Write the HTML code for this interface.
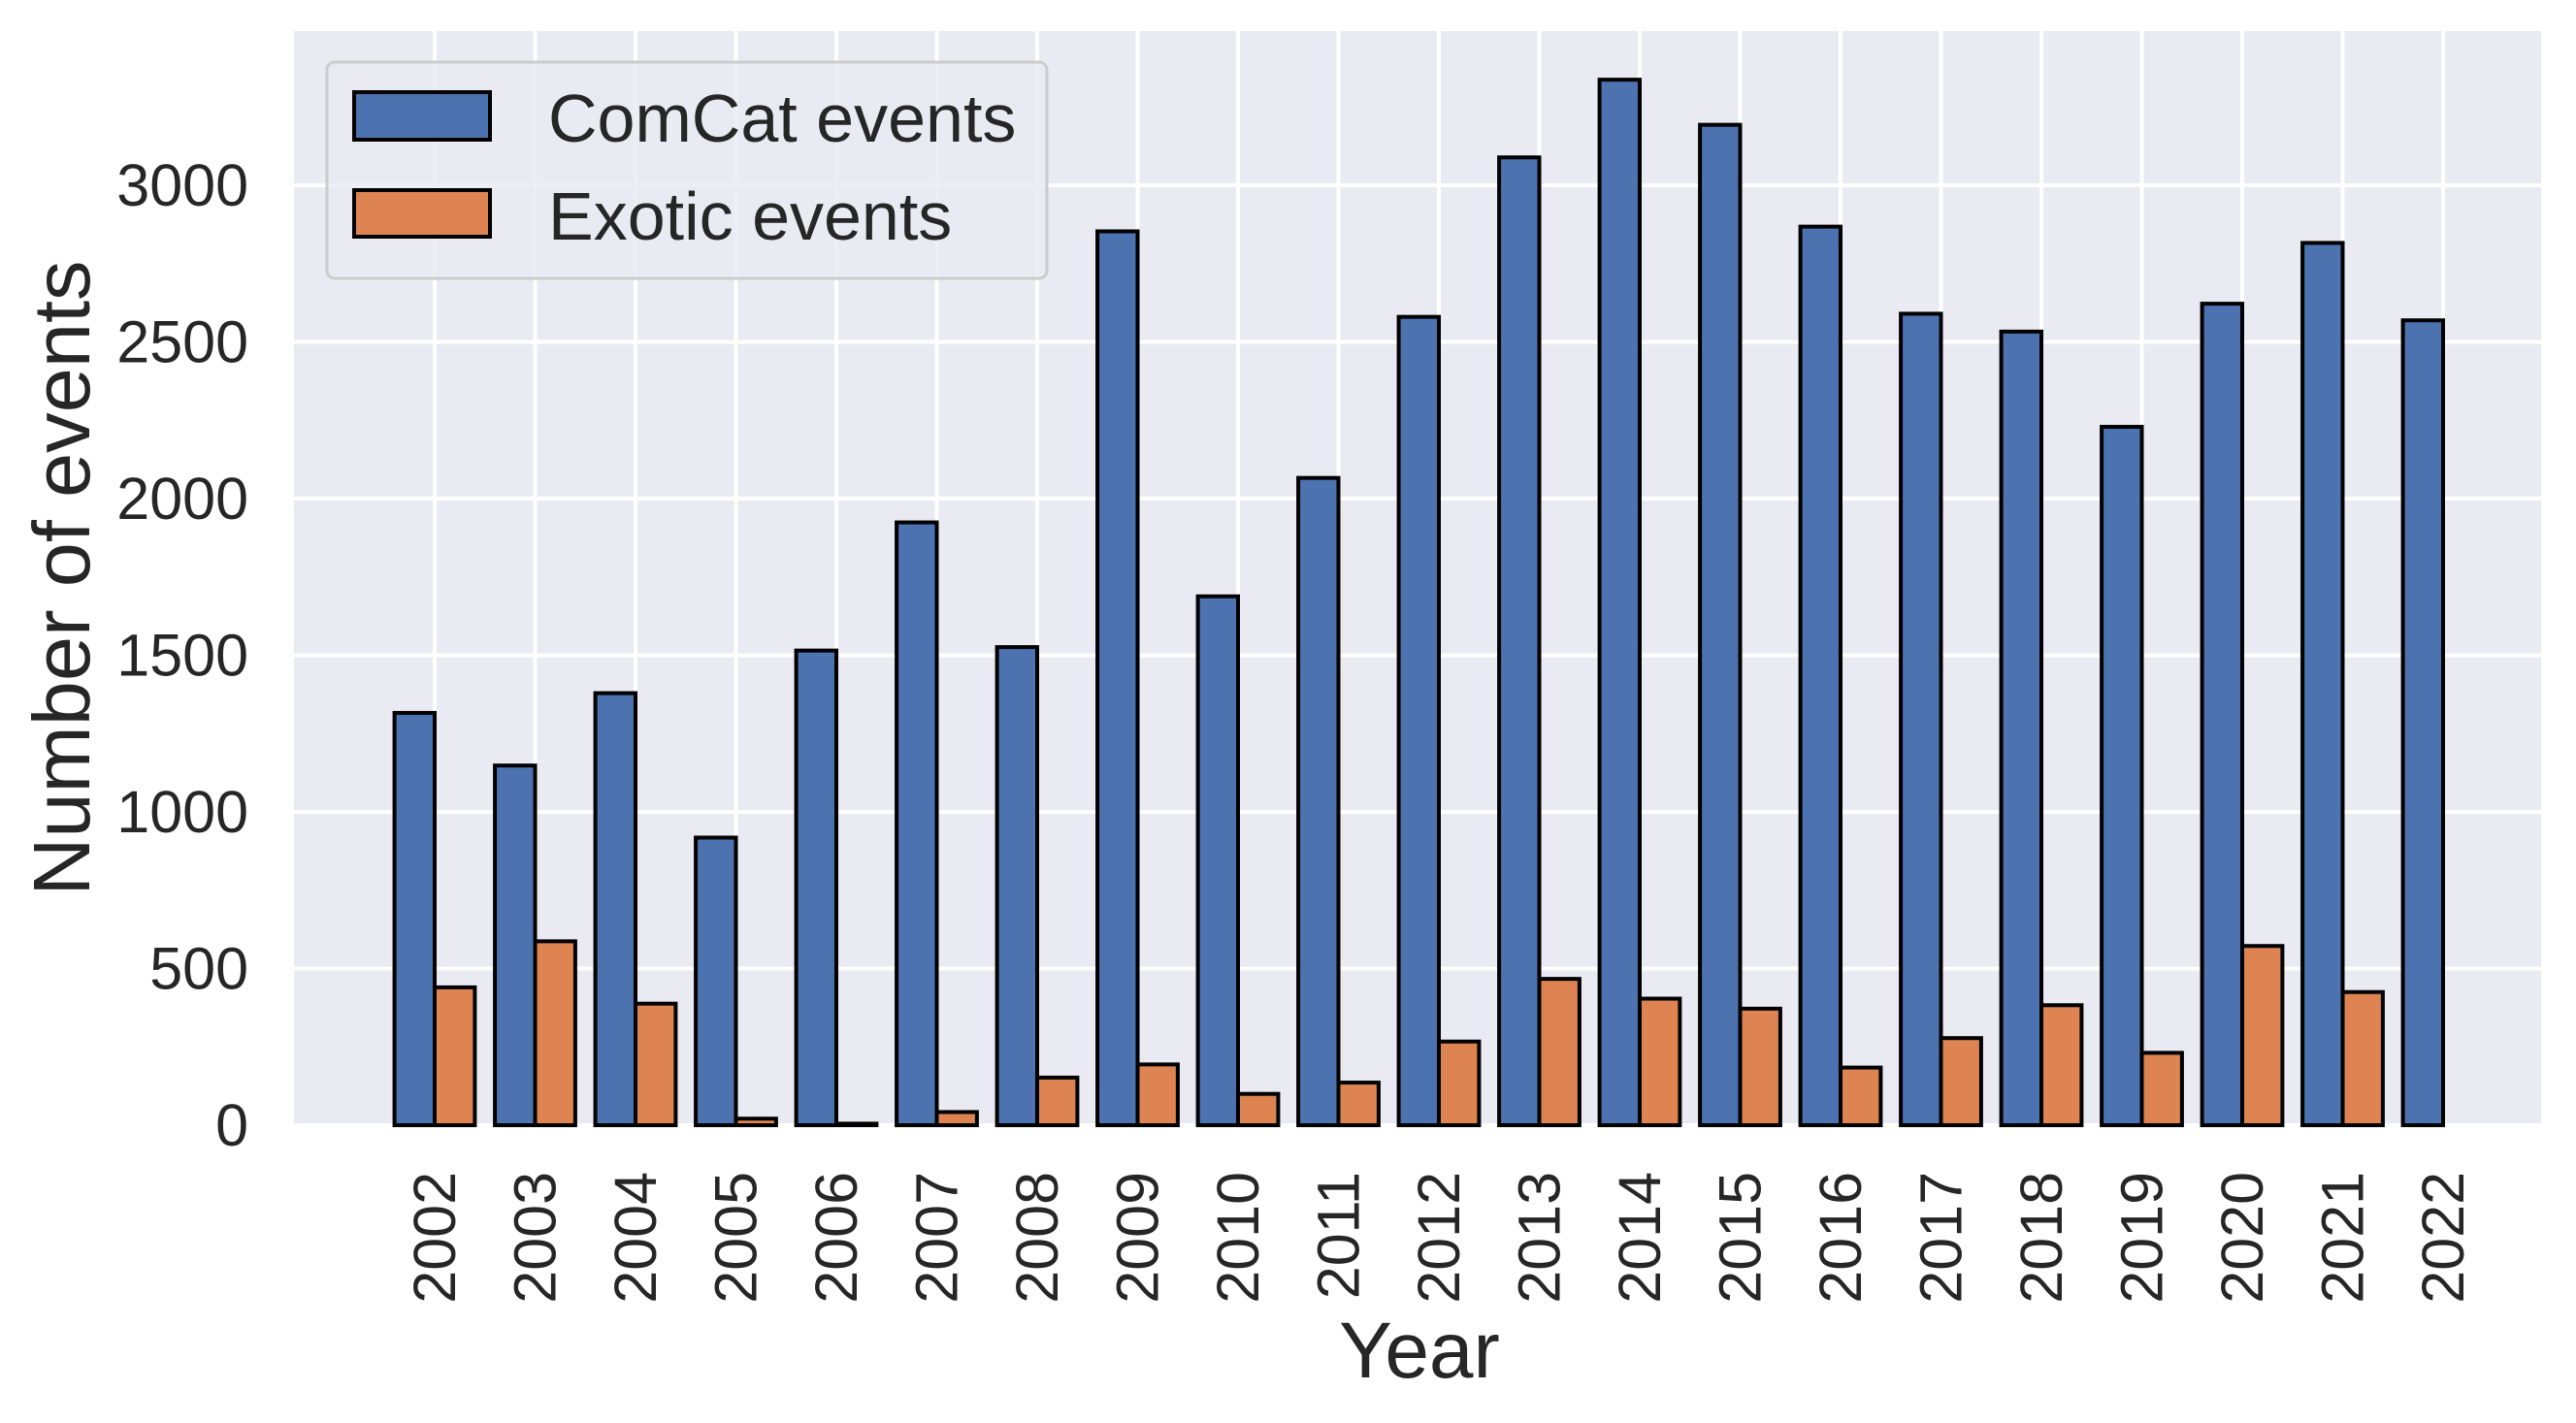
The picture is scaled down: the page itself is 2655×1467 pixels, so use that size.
<!DOCTYPE html>
<html><head><meta charset="utf-8"><style>html,body{margin:0;padding:0;background:#fff}</style></head><body>
<svg xmlns="http://www.w3.org/2000/svg" width="2655" height="1462" viewBox="0 0 2655 1462">
<rect x="0" y="0" width="2655" height="1462" fill="#fff"/>
<rect x="303" y="32" width="2316" height="1128" fill="#eaeaf2"/>
<g id="grid" stroke="#fff" stroke-width="4"></g>
<g id="bars" stroke="#000" stroke-width="4"></g>
<g id="labels" font-family="Liberation Sans, sans-serif" fill="#262626"></g>
<g font-family="Liberation Sans, sans-serif" fill="#262626">
<text x="1463" y="1420" font-size="82" text-anchor="middle">Year</text>
<text transform="translate(92,596) rotate(-90)" font-size="83" text-anchor="middle">Number of events</text>
</g>
<g>
<rect x="337" y="64" width="742" height="223" rx="8" fill="#eaeaf2" fill-opacity="0.8" stroke="#cccccc" stroke-width="3"/>
<rect x="365" y="95" width="140" height="49" fill="#4c72b0" stroke="#000" stroke-width="4"/>
<rect x="365" y="196" width="140" height="48" fill="#dd8452" stroke="#000" stroke-width="4"/>
<text x="565" y="146" font-size="70" font-family="Liberation Sans, sans-serif" fill="#262626">ComCat events</text>
<text x="565" y="247" font-size="70" font-family="Liberation Sans, sans-serif" fill="#262626">Exotic events</text>
</g>
<script>
var ns="http://www.w3.org/2000/svg";
var c=[1316,1148,1379,918,1515,1924,1526,2853,1688,2066,2580,3089,3337,3193,2868,2590,2533,2229,2622,2816,2569];
var e=[440,587,388,21,5,42,152,194,100,136,267,467,404,372,184,278,383,231,572,425,null];
var y0=1160,k=0.323,sp=103.5,x0=448,w=41.4;
function el(t,a,p){var n=document.createElementNS(ns,t);for(var i in a)n.setAttribute(i,a[i]);document.getElementById(p).appendChild(n);return n;}
for(var v=0;v<=3000;v+=500){var y=y0-v*k;el("line",{x1:303,x2:2619,y1:y,y2:y},"grid");
var t=el("text",{x:256,y:y+21,"font-size":61,"text-anchor":"end"},"labels");t.textContent=v;}
for(var i=0;i<21;i++){var x=x0+i*sp;el("line",{x1:x,x2:x,y1:32,y2:1160},"grid");
el("rect",{x:x-w,y:y0-c[i]*k,width:w,height:c[i]*k,fill:"#4c72b0"},"bars");
if(e[i]!==null)el("rect",{x:x,y:y0-e[i]*k,width:w,height:e[i]*k,fill:"#dd8452"},"bars");
var t=el("text",{transform:"translate("+(x+21)+",1208) rotate(-90)","font-size":61,"text-anchor":"end"},"labels");t.textContent=2002+i;}
</script>
</svg>
</body></html>
